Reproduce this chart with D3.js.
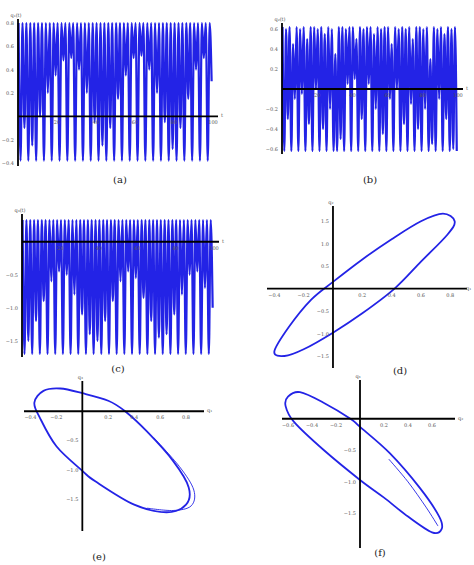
<!DOCTYPE html>
<html><head><meta charset="utf-8">
<script src="https://cdn.jsdelivr.net/npm/d3@7"></script>
<style>body{margin:0;background:#fff}svg{display:block}text{font-family:"DejaVu Serif",serif}</style>
</head><body>
<svg id="c" width="474" height="565"></svg>
<script>
// ---- data (extrema per half-cycle) ----
const aPeaks = [0.8,0.8,0.8,0.8,0.8,0.8,0.8,0.8,0.8,0.8,0.8,0.8,0.8,0.8,0.8,0.8,0.8,0.8,0.8,0.8,0.8,0.8,0.8,0.8,0.8,0.8,0.8,0.8,0.8,0.8,0.8,0.8,0.8,0.8,0.8,0.8,0.8,0.8,0.8,0.8,0.8,0.8,0.8,0.8,0.8,0.8,0.8,0.8,0.8,0.8];
const aTroughs = [-0.38,-0.1,-0.38,-0.25,-0.38,0.0,-0.38,0.2,-0.38,0.35,-0.38,0.48,-0.38,0.5,-0.38,0.4,-0.38,0.2,-0.38,-0.05,-0.38,-0.25,-0.38,-0.1,-0.38,0.15,-0.38,0.35,-0.38,0.5,-0.38,0.52,-0.38,0.4,-0.38,0.2,-0.38,-0.05,-0.38,-0.28,-0.38,-0.1,-0.38,0.15,-0.38,0.4,-0.38,0.5,-0.38,0.3];
const bPeaks = [0.62,0.6,0.62,0.45,0.62,0.6,0.62,0.5,0.62,0.62,0.6,0.62,0.55,0.62,0.6,0.35,0.62,0.62,0.6,0.62,0.62,0.5,0.62,0.6,0.62,0.62,0.55,0.62,0.6,0.62,0.62,0.45,0.62,0.6,0.62,0.6,0.62,0.5,0.62,0.62,0.6,0.62,0.3,0.62,0.6,0.62,0.55,0.62,0.6,0.62];
const bTroughs = [-0.62,-0.3,-0.62,-0.1,-0.62,-0.05,-0.62,-0.35,-0.62,0.0,-0.62,-0.4,-0.62,-0.2,-0.62,-0.62,-0.5,-0.62,0.05,-0.62,0.1,-0.62,-0.3,-0.62,0.05,-0.62,-0.2,-0.62,-0.45,-0.62,-0.1,-0.62,0.0,-0.62,-0.35,-0.62,-0.15,-0.62,-0.4,-0.62,-0.2,-0.62,-0.55,-0.62,-0.1,-0.62,-0.3,-0.62,-0.6,-0.62];
const cPeaks = [0.33,0.33,0.33,0.33,0.33,0.33,0.33,0.33,0.33,0.33,0.33,0.33,0.33,0.33,0.33,0.33,0.33,0.33,0.33,0.33,0.33,0.33,0.33,0.33,0.33,0.33,0.33,0.33,0.33,0.33,0.33,0.33,0.33,0.33,0.33,0.33,0.33,0.33,0.33,0.33,0.33,0.33,0.33,0.33,0.33,0.33,0.33,0.33,0.33,0.33];
const cTroughs = [-1.7,-1.5,-1.7,-1.2,-1.7,-0.9,-1.7,-0.6,-1.7,-0.45,-1.7,-0.5,-1.7,-0.8,-1.7,-1.1,-1.7,-1.4,-1.7,-1.5,-1.7,-1.2,-1.7,-0.9,-1.7,-0.6,-1.7,-0.45,-1.7,-0.55,-1.7,-0.85,-1.7,-1.2,-1.7,-1.45,-1.7,-1.4,-1.7,-1.1,-1.7,-0.8,-1.7,-0.5,-1.7,-0.45,-1.7,-0.7,-1.7,-1.0];
const dLoop = [[-0.4,-1.4],[-0.3,-0.85],[-0.15,-0.25],[0,0.15],[0.2,0.65],[0.4,1.1],[0.6,1.5],[0.75,1.67],[0.83,1.5],[0.78,1.2],[0.6,0.6],[0.42,0],[0.2,-0.55],[0,-0.98],[-0.2,-1.35],[-0.33,-1.5]];
const eLoop = [[-0.17,0.39],[0,0.31],[0.2,0.18],[0.33,0],[0.5,-0.35],[0.7,-0.85],[0.82,-1.3],[0.8,-1.6],[0.65,-1.73],[0.4,-1.6],[0.1,-1.2],[0,-1.02],[-0.2,-0.6],[-0.33,-0.1],[-0.37,0.15],[-0.3,0.35]];
const eExtra = [[0.55,-0.45],[0.75,-0.95],[0.86,-1.35],[0.84,-1.62],[0.7,-1.7],[0.5,-1.66]];
const fLoop = [[-0.5,0.42],[-0.3,0.25],[-0.08,0],[0,-0.13],[0.25,-0.55],[0.5,-1.1],[0.66,-1.55],[0.68,-1.75],[0.6,-1.8],[0.4,-1.55],[0.2,-1.25],[0,-0.97],[-0.3,-0.5],[-0.55,-0.05],[-0.62,0.2],[-0.6,0.35]];
const fExtra = [[0.24,-0.64],[0.4,-1.0],[0.55,-1.4],[0.65,-1.7]];
const tTicks = [20,40,60,80,100];
const aTicks = [-0.4,-0.2,0.2,0.4,0.6,0.8];
const bTicks = [-0.6,-0.4,-0.2,0.2,0.4,0.6];
const cTicks = [-1.5,-1.0,-0.5];
const dXTicks = [-0.4,-0.2,0.2,0.4,0.6,0.8], dYTicks = [-1.5,-1.0,-0.5,0.5,1.0,1.5];
const eXTicks = [-0.4,-0.2,0.2,0.4,0.6,0.8], eYTicks = [-1.5,-1.0,-0.5];
const fXTicks = [-0.6,-0.4,-0.2,0.2,0.4,0.6], fYTicks = [-1.5,-1.0,-0.5];

const svg = d3.select('#c');
const BLUE = '#2323e6';
const fmt = v => (v<0?'\u2212':'') + Math.abs(v).toFixed(1);

function axes(g, x, y, xt, yt, xl, yl){
  const [x0,x1]=x.range(), [y0,y1]=y.range();
  g.append('line').attr('x1',x0).attr('x2',x1+5).attr('y1',y(0)).attr('y2',y(0)).attr('stroke','#000').attr('stroke-width',1.8);
  g.append('line').attr('x1',x(0)).attr('x2',x(0)).attr('y1',y0+3).attr('y2',y1-4).attr('stroke','#000').attr('stroke-width',1.8);
  xt.forEach(v=>{
    g.append('text').attr('x',x(v)).attr('y',y(0)+8).attr('text-anchor','middle').attr('font-size',5).attr('fill','#555').text(Number.isInteger(v)?v:fmt(v));
  });
  yt.forEach(v=>{
    g.append('text').attr('x',x(0)-4).attr('y',y(v)+2).attr('text-anchor','end').attr('font-size',5).attr('fill','#555').text(fmt(v));
  });
  g.append('text').attr('x',Math.min(x1+8,466)).attr('y',y(0)+1).attr('font-size',5).attr('fill','#555').text(xl);
  g.append('text').attr('x',x(0)-2).attr('y',y1-6).attr('text-anchor','middle').attr('font-size',5).attr('fill','#555').text(yl);
}

function series(peaks, troughs){
  const pts=[];
  peaks.forEach((p,i)=>{ pts.push([i*2+0.3,p]); pts.push([i*2+1.3,troughs[i]]); });
  return pts;
}

function tsPanel(px0,px1,py0,py1,dom,peaks,troughs,yt,yl){
  const x=d3.scaleLinear().domain([0,100]).range([px0,px1]);
  const y=d3.scaleLinear().domain(dom).range([py0,py1]);
  const g=svg.append('g');
  const line=d3.line().x(d=>x(d[0])).y(d=>y(d[1])).curve(d3.curveMonotoneX);
  g.append('path').attr('d',line(series(peaks,troughs))).attr('fill','none').attr('stroke',BLUE).attr('stroke-width',2.2);
  axes(g,x,y,tTicks,yt,'t',yl);
}
tsPanel(18,213,163,23,[-0.4,0.8],aPeaks,aTroughs,aTicks,'q\u2081(t)');
tsPanel(282,458,151,27,[-0.62,0.62],bPeaks,bTroughs,bTicks,'q\u2082(t)');
tsPanel(22,214,354,218,[-1.7,0.36],cPeaks,cTroughs,cTicks,'q\u2083(t)');

function phPanel(x,y,loop,extra,xt,yt,xl,yl){
  const g=svg.append('g');
  g.append('path').attr('d',d3.line().x(d=>x(d[0])).y(d=>y(d[1])).curve(d3.curveCardinalClosed)(loop)).attr('fill','none').attr('stroke',BLUE).attr('stroke-width',1.8);
  if(extra) g.append('path').attr('d',d3.line().x(d=>x(d[0])).y(d=>y(d[1])).curve(d3.curveCardinal)(extra)).attr('fill','none').attr('stroke',BLUE).attr('stroke-width',0.9);
  axes(g,x,y,xt,yt,xl,yl);
}
phPanel(d3.scaleLinear().domain([-0.45,0.88]).range([267,462]), d3.scaleLinear().domain([-1.7,1.75]).range([365,210]), dLoop,null,dXTicks,dYTicks,'q\u2081','q\u2082');
phPanel(d3.scaleLinear().domain([-0.45,0.9]).range([24,199]), d3.scaleLinear().domain([-2.0,0.45]).range([528,385]), eLoop,eExtra,eXTicks,eYTicks,'q\u2081','q\u2083');
phPanel(d3.scaleLinear().domain([-0.65,0.75]).range([282,450]), d3.scaleLinear().domain([-2.0,0.55]).range([545,384]), fLoop,fExtra,fXTicks,fYTicks,'q\u2082','q\u2083');

const caps=[['(a)',120,183],['(b)',370,183],['(c)',118,372],['(d)',400,374],['(e)',99,560],['(f)',380,556]];
caps.forEach(c=>svg.append('text').attr('x',c[1]).attr('y',c[2]).attr('text-anchor','middle').attr('font-size',10).attr('fill','#222').text(c[0]));
</script>
</body></html>
